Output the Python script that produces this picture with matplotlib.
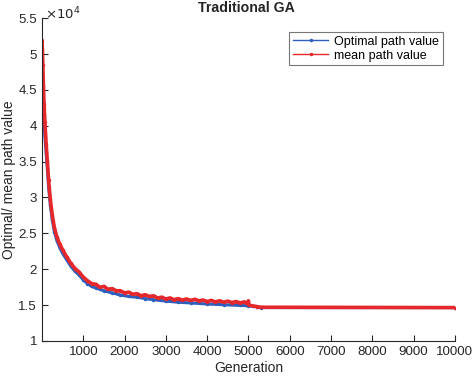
import numpy as np
import matplotlib.pyplot as plt
from matplotlib.ticker import FuncFormatter

plt.rcParams["font.family"] = ["Liberation Sans", "DejaVu Sans"]

# optimal path value (blue)
opt_gen = [0, 20, 40, 70, 100, 130, 160, 200, 250, 300, 360, 430, 500, 600,
           700, 800, 900, 1000, 1100, 1200, 1300, 1400, 1500, 1700, 1900,
           2100, 2300, 2500, 2700, 3000, 3300, 3600, 4000, 4400, 4800, 5000,
           5200, 5300, 10000]
opt_val = [4.68, 4.45, 4.15, 3.85, 3.62, 3.40, 3.14, 2.90, 2.68, 2.52, 2.40,
           2.30, 2.22, 2.13, 2.04, 1.97, 1.92, 1.85, 1.80, 1.76, 1.74, 1.72,
           1.70, 1.67, 1.64, 1.62, 1.61, 1.59, 1.575, 1.555, 1.54, 1.53,
           1.515, 1.505, 1.495, 1.49, 1.475, 1.465, 1.465]

# mean path value (red)
mean_gen = [0, 10, 20, 35, 50, 70, 100, 130, 160, 200, 250, 300, 360, 430,
            500, 600, 700, 800, 900, 1000, 1100, 1200, 1300, 1400, 1500, 1600,
            1700, 1800, 1900, 2000, 2100, 2200, 2300, 2400, 2500, 2600, 2700,
            2800, 2900, 3000, 3100, 3200, 3300, 3400, 3500, 3600, 3700, 3800,
            3900, 4000, 4100, 4200, 4300, 4400, 4500, 4600, 4700, 4800, 4900,
            4950, 5000, 5010, 5100, 5200, 5300, 10000]
mean_val = [5.18, 5.05, 4.85, 4.55, 4.30, 4.05, 3.75, 3.50, 3.24, 2.98, 2.75,
            2.58, 2.45, 2.35, 2.27, 2.17, 2.08, 2.01, 1.96, 1.89, 1.84, 1.80,
            1.79, 1.75, 1.76, 1.72, 1.73, 1.70, 1.70, 1.67, 1.68, 1.65, 1.66,
            1.63, 1.645, 1.62, 1.63, 1.60, 1.61, 1.585, 1.60, 1.575, 1.59,
            1.57, 1.585, 1.565, 1.58, 1.56, 1.57, 1.55, 1.565, 1.545, 1.56,
            1.54, 1.555, 1.535, 1.55, 1.53, 1.545, 1.525, 1.56, 1.50, 1.49,
            1.48, 1.47, 1.465]

blue = "#2d5fbd"
red = "#e5282b"
txt = "#262626"

fig = plt.figure(figsize=(4.74, 3.78), dpi=100)
ax = fig.add_axes([0.0886, 0.098, 0.871, 0.854])

ax.plot(opt_gen, np.array(opt_val) * 1e4, color=blue, lw=2.2, marker=".",
        ms=3, label="Optimal path value")
ax.plot(mean_gen, np.array(mean_val) * 1e4, color=red, lw=2.6, marker=".",
        ms=3, label="mean path value")

ax.set_xlim(0, 10000)
ax.set_ylim(1e4, 5.5e4)
ax.set_xticks(np.arange(1000, 10001, 1000))
ax.set_yticks(np.arange(1e4, 5.51e4, 5000))
ax.yaxis.set_major_formatter(FuncFormatter(lambda v, p: "%g" % (v / 1e4)))

for s in ["top", "right"]:
    ax.spines[s].set_visible(False)
for s in ["left", "bottom"]:
    ax.spines[s].set_color(txt)
    ax.spines[s].set_linewidth(0.8)
ax.tick_params(direction="in", labelsize=9.6, colors=txt, length=4, width=0.8)

ax.set_xlabel("Generation", fontsize=10, color=txt, labelpad=2)
ax.set_ylabel("Optimal/ mean path value", fontsize=10, color=txt, labelpad=2)
fig.text(0.52, 0.978, "Traditional GA", ha="center", va="center",
         fontsize=10.2, fontweight="bold", color=txt)
fig.text(0.094, 0.962, r"$\times 10^4$", ha="left", va="center",
         fontsize=9.5, color=txt)

leg = ax.legend(loc="upper right", bbox_to_anchor=(0.971, 0.957), fontsize=9,
                frameon=True, fancybox=False, borderpad=0.3, handlelength=2.8,
                labelspacing=0.15, handletextpad=0.5, borderaxespad=0)
leg.get_frame().set_edgecolor("#555555")
leg.get_frame().set_linewidth(0.8)
for line in leg.get_lines():
    line.set_linewidth(1.0)

fig.savefig("out.png", dpi=100)
